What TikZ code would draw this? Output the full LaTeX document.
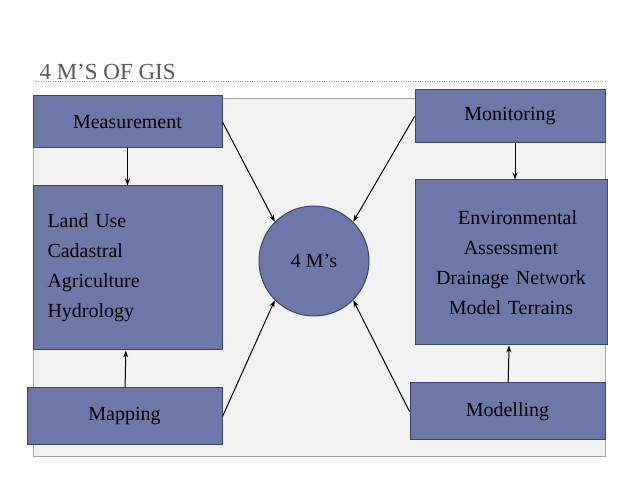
\documentclass[tikz,border=0pt]{standalone}
\usepackage{fontspec}
\setmainfont{Liberation Serif}
\usetikzlibrary{arrows.meta}
\definecolor{boxfill}{HTML}{6E78A8}
\definecolor{boxline}{HTML}{3C4468}
\definecolor{panel}{HTML}{F2F2F2}
\definecolor{titlec}{HTML}{595959}
\begin{document}
\begin{tikzpicture}[x=1pt,y=-1pt,
  box/.style={draw=boxline,line width=1pt,fill=boxfill,font=\fontsize{20}{23}\selectfont},
  arr/.style={-{Stealth[length=7pt,width=5pt]},line width=1pt}]
\useasboundingbox (0,0) rectangle (638,478);
\fill[white] (0,0) rectangle (638,478);
\node[anchor=base west,text=titlec,font=\fontsize{23}{26}\selectfont] (title) at (36,80) {4 M’S OF GIS};
\draw[dotted,draw=teal!60] (36,81) -- (606,81);
\draw[draw=gray!70,fill=panel] (33,98) rectangle (605,456);
\node[box,minimum width=189pt,minimum height=52pt] (meas) at (127.5,122) {Measurement};
\node[box,minimum width=190pt,minimum height=53pt] (mon) at (510,116.5) {Monitoring};
\node[box,minimum width=189pt,minimum height=164pt,align=left,text width=160pt,
  font=\fontsize{20}{30}\selectfont] (lu) at (127.5,268) {Land Use\\Cadastral\\Agriculture\\Hydrology};
\node[box,minimum width=192pt,minimum height=165pt,align=center,text width=190pt,inner sep=0pt,
  font=\fontsize{20}{30}\selectfont] (env) at (511,262.5) {\ \ Environmental\\Assessment\\Drainage Network\\Model Terrains};
\node[box,minimum width=195pt,minimum height=57pt] (map) at (124.5,416.5) {Mapping};
\node[box,minimum width=195pt,minimum height=57pt] (mod) at (507.5,411.5) {Modelling};
\node[box,circle,minimum size=110pt,inner sep=0pt] (c) at (314,261) {4 M’s};
\draw[arr] (meas) -- (lu);
\draw[arr] (map) -- (lu);
\draw[arr] (mon.south -| 515,0) -- (env.north -| 515,0);
\draw[arr] (mod) -- (env);
\draw[arr] (meas.east) -- (c.north west);
\draw[arr] (mon.west) -- (c.north east);
\draw[arr] (map.east) -- (c.south west);
\draw[arr] (mod.west) -- (c.south east);
\end{tikzpicture}
\end{document}
